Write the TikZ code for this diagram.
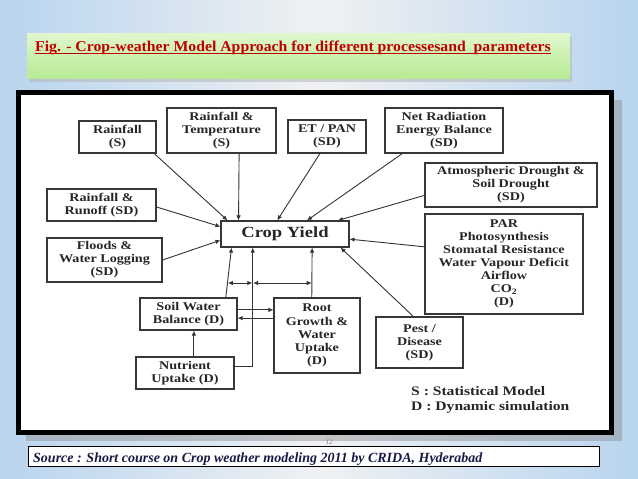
\documentclass[tikz,border=0pt]{standalone}
\usepackage{fontspec}
\setmainfont{Liberation Serif}
\newfontfamily\boxfont[FakeStretch=1.2]{Liberation Serif}
\newfontfamily\headfont[FakeStretch=1.05]{Liberation Serif}
\usepackage{tikz}
\usetikzlibrary{calc,arrows.meta}

\definecolor{bgblue}{RGB}{184,212,238}
\definecolor{bgmid}{RGB}{240,241,243}
\definecolor{titlered}{RGB}{192,0,0}
\definecolor{greentop}{RGB}{224,247,206}
\definecolor{greenbot}{RGB}{184,234,148}
\definecolor{boxline}{RGB}{55,55,55}
\definecolor{srcblue}{RGB}{25,25,70}

\begin{document}
\begin{tikzpicture}[x=1pt,y=-1pt,
    box/.style={draw=boxline, line width=1.1pt, fill=white, align=center, inner sep=0pt,
        text=black!85, font=\boxfont\bfseries\fontsize{11.8}{13.1}\selectfont},
    arr/.style={draw=black!80, line width=0.9pt, -{Latex[length=5pt,width=4.5pt]}},
    both/.style={arr, {Latex[length=5pt,width=4.5pt]}-{Latex[length=5pt,width=4.5pt]}}]
        \useasboundingbox (0,0) rectangle (638,479);

        % Slide background and title bar
        \shade[left color=bgblue, right color=bgblue, middle color=bgmid] (0,0) rectangle (638,479);
        \fill[black!30, opacity=0.5] (29,37) rectangle (572,82);
        \shade[top color=greentop, bottom color=greenbot] (27,33) rectangle (570,78);
        \node[anchor=base west, inner sep=0pt, text=titlered,
            font=\headfont\bfseries\fontsize{15}{15}\selectfont] (title) at (35,52)
            {Fig. - Crop-weather Model Approach for different processesand\ \ parameters};
        \draw[titlered, line width=1pt] ($(title.base west)+(0,1.8)$) -- ($(title.base east)+(0,1.8)$);

        % Framed screenshot of the diagram
        \fill[black!45, opacity=0.45] (26,100) rectangle (622,441);
        \draw[line width=5pt, fill=white] (18.5,92.5) rectangle (611,432.5);

        % Driving factors
        \node[box, minimum width=77pt, minimum height=32pt] (rain) at (117.5,137) {Rainfall\\(S)};
        \node[box, minimum width=109pt, minimum height=45pt] (raintemp) at (221.5,130.5) {Rainfall \&\\Temperature\\(S)};
        \node[box, minimum width=78pt, minimum height=33pt] (etpan) at (327,136.5) {ET / PAN\\(SD)};
        \node[box, minimum width=118pt, minimum height=45pt] (netrad) at (444,130.5) {Net Radiation\\Energy Balance\\(SD)};
        \node[box, minimum width=172pt, minimum height=44pt] (drought) at (511,185) {Atmospheric Drought \&\\Soil Drought\\(SD)};
        \node[box, minimum width=109pt, minimum height=32pt] (runoff) at (101.5,205) {Rainfall \&\\Runoff (SD)};
        \node[box, minimum width=115pt, minimum height=44pt] (floods) at (104.5,260) {Floods \&\\Water Logging\\(SD)};
        \node[box, minimum width=158pt, minimum height=100pt] (par) at (504,264)
            {PAR\\Photosynthesis\\Stomatal Resistance\\Water Vapour Deficit\\Airflow\\CO\textsubscript{2}\\(D)};
        \node[box, minimum width=97pt, minimum height=32pt] (soil) at (188.5,314) {Soil Water\\Balance (D)};
        \node[box, minimum width=86pt, minimum height=75pt] (root) at (317,335.5) {Root\\Growth \&\\Water\\Uptake\\(D)};
        \node[box, minimum width=87pt, minimum height=51pt] (pest) at (419.5,342.5) {Pest /\\Disease\\(SD)};
        \node[box, minimum width=98pt, minimum height=32pt] (nutrient) at (185,373) {Nutrient\\Uptake (D)};

        % The output
        \node[box, minimum width=128pt, minimum height=26pt,
            font=\boxfont\bfseries\fontsize{15.5}{16}\selectfont] (yield) at (285,234) {Crop Yield};

        % Arrows into the crop yield box
        \draw[arr] ($(rain.south west)!0.97!(rain.south east)$) -- ($(yield.north west)!0.055!(yield.north east)$);
        \draw[arr] ($(raintemp.south west)!0.66!(raintemp.south east)$) -- ($(yield.north west)!0.14!(yield.north east)$);
        \draw[arr] ($(etpan.south west)!0.41!(etpan.south east)$) -- ($(yield.north west)!0.44!(yield.north east)$);
        \draw[arr] ($(netrad.south west)!0.15!(netrad.south east)$) -- ($(yield.north west)!0.67!(yield.north east)$);
        \draw[arr] ($(drought.north west)!0.73!(drought.south west)$) -- ($(yield.north west)!0.91!(yield.north east)$);
        \draw[arr] ($(runoff.north east)!0.56!(runoff.south east)$) -- ($(yield.north west)!0.23!(yield.south west)$);
        \draw[arr] (floods.east) -- ($(yield.north west)!0.73!(yield.south west)$);
        \draw[arr] ($(par.north west)!0.33!(par.south west)$) -- ($(yield.north east)!0.69!(yield.south east)$);
        \draw[arr] ($(pest.north west)!0.43!(pest.north east)$) -- ($(yield.south west)!0.93!(yield.south east)$);

        % Soil, nutrient and root links below the crop yield box
        \coordinate (S1) at ($(soil.north west)!0.88!(soil.north east)$);
        \coordinate (Y1) at ($(yield.south west)!0.086!(yield.south east)$);
        \coordinate (Y2) at ($(yield.south west)!0.25!(yield.south east)$);
        \coordinate (Y3) at ($(yield.south west)!0.71!(yield.south east)$);
        \coordinate (H1) at ($(S1)!0.29!(Y1)$);
        \draw[arr] (S1) -- (Y1);
        \draw[arr] ($(root.north west)!0.44!(root.north east)$) -- (Y3);
        \draw[arr] ($(nutrient.north east)!0.31!(nutrient.south east)$) -| (Y2);
        \draw[both, shorten <=0.4pt, shorten >=0.4pt] (H1) -- (H1 -| Y2);
        \draw[both, shorten <=0.4pt, shorten >=0.4pt] (H1 -| Y2) -- (H1 -| Y3);

        \coordinate (SR) at ($(soil.north east)!0.375!(soil.south east)$);
        \coordinate (RS) at ($(soil.north east)!0.625!(soil.south east)$);
        \draw[arr] (SR) -- (SR -| root.west);
        \draw[arr] (RS -| root.west) -- (RS);
        \coordinate (NT) at ($(nutrient.north west)!0.59!(nutrient.north east)$);
        \draw[arr] (NT) -- (NT |- soil.south);

        % Key to the letters
        \node[anchor=west, align=left, inner sep=0pt, text=black!85,
            font=\boxfont\bfseries\fontsize{13}{15}\selectfont] (legend) at (411,400)
            {S : Statistical Model\\D : Dynamic simulation};

        % Page number and source line
        \node[text=gray, font=\fontsize{7}{7}\selectfont, inner sep=0pt] (pageno) at (329,442) {12};
        \node[draw=black, line width=1.2pt, fill=white, minimum width=571pt, minimum height=20pt,
            inner sep=0pt, anchor=north west] (srcbox) at (28,446) {};
        \node[anchor=base west, inner sep=0pt, text=srcblue,
            font=\bfseries\itshape\fontsize{14}{14}\selectfont] (source) at (33,462)
            {Source : Short course on Crop weather modeling 2011 by CRIDA, Hyderabad};

    \end{tikzpicture}
\end{document}
